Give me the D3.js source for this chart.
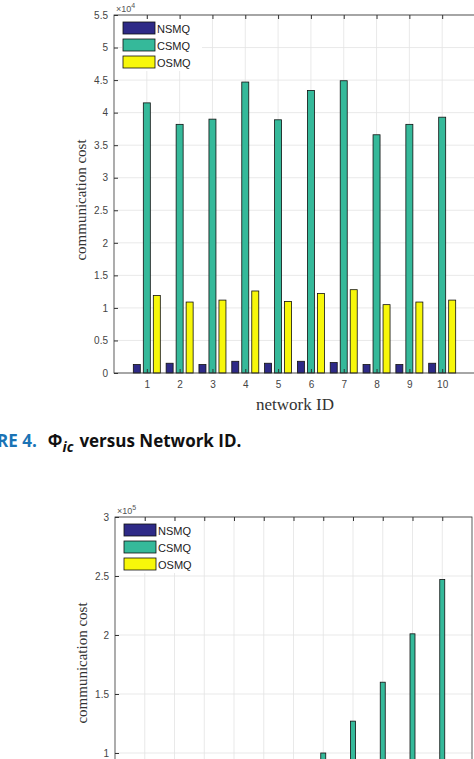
<!DOCTYPE html>
<html><head><meta charset="utf-8">
<script src="https://cdn.jsdelivr.net/npm/d3@7"></script>
<style>body{margin:0;background:#fff}svg{display:block}</style>
</head><body>
<svg width="474" height="759"></svg>
<script>
const seriesNames = ["NSMQ", "CSMQ", "OSMQ"];
const seriesColors = ["#2e2a87", "#35b99a", "#f7f70a"];

// Figure 4 (x 10^4)
const ids1 = [1, 2, 3, 4, 5, 6, 7, 8, 9, 10];
const nsmq1 = [0.13, 0.15, 0.13, 0.18, 0.15, 0.18, 0.16, 0.13, 0.13, 0.15];
const csmq1 = [4.15, 3.82, 3.90, 4.47, 3.89, 4.34, 4.49, 3.66, 3.82, 3.93];
const osmq1 = [1.19, 1.09, 1.12, 1.26, 1.10, 1.22, 1.28, 1.05, 1.09, 1.12];
const yTicks1 = [0, 0.5, 1, 1.5, 2, 2.5, 3, 3.5, 4, 4.5, 5, 5.5];

// next figure (x 10^5), only the top part is visible
const ids2 = [1, 2, 3, 4, 5, 6, 7, 8, 9, 10, 11];
const nsmq2 = [0.002, 0.003, 0.004, 0.005, 0.006, 0.008, 0.01, 0.012, 0.014, 0.016, 0.018];
const csmq2 = [0.1, 0.2, 0.3, 0.45, 0.6, 0.8, 1.0, 1.27, 1.60, 2.01, 2.47];
const osmq2 = [0.03, 0.06, 0.09, 0.13, 0.18, 0.24, 0.3, 0.38, 0.48, 0.6, 0.74];
const yTicks2 = [0, 0.5, 1, 1.5, 2, 2.5, 3];

const svg = d3.select("svg");

function drawChart(o) {
  const g = svg.append("g");
  const x = d3.scaleLinear().domain(o.xDomain).range([o.left, o.right]);
  const y = d3.scaleLinear().domain(o.yDomain).range([o.bottom, o.top]);

  // grid
  g.selectAll(".vg").data(o.ids).enter().append("line")
    .attr("x1", d => x(d)).attr("x2", d => x(d))
    .attr("y1", o.top).attr("y2", o.bottom)
    .attr("stroke", "#e3e3e3").attr("stroke-width", 0.8);
  g.selectAll(".hg").data(o.yTicks).enter().append("line")
    .attr("x1", o.left).attr("x2", o.right)
    .attr("y1", d => y(d)).attr("y2", d => y(d))
    .attr("stroke", "#e3e3e3").attr("stroke-width", 0.8);

  // bars
  const series = [o.n, o.c, o.s];
  series.forEach((vals, si) => {
    g.selectAll(".b" + si).data(vals).enter().append("rect")
      .attr("x", (d, i) => x(o.ids[i]) + (si - 1) * o.off - o.bw / 2)
      .attr("width", o.bw)
      .attr("y", d => y(d))
      .attr("height", d => y(0) - y(d))
      .attr("fill", seriesColors[si])
      .attr("stroke", "#111").attr("stroke-width", 0.8);
  });

  // axes box
  g.append("rect").attr("x", o.left).attr("y", o.top)
    .attr("width", o.right - o.left).attr("height", o.bottom - o.top)
    .attr("fill", "none").attr("stroke", "#333").attr("stroke-width", 0.8);

  const ya = g.append("g").attr("transform", `translate(${o.left},0)`)
    .call(d3.axisLeft(y).tickValues(o.yTicks).tickSize(-4).tickPadding(6).tickFormat(d3.format("")));
  ya.select(".domain").remove();
  ya.selectAll("text").attr("font-family", "Liberation Sans, sans-serif").attr("font-size", 10).attr("fill", "#444");
  ya.selectAll("line").attr("stroke", "#333");

  const xa = g.append("g").attr("transform", `translate(0,${o.bottom})`)
    .call(d3.axisBottom(x).tickValues(o.ids).tickSize(-4).tickPadding(8).tickFormat(d3.format("")));
  xa.select(".domain").remove();
  xa.selectAll("text").attr("font-family", "Liberation Sans, sans-serif").attr("font-size", 10).attr("fill", "#444");
  xa.selectAll("line").attr("stroke", "#333");

  const xt = g.append("g").attr("transform", `translate(0,${o.top})`)
    .call(d3.axisTop(x).tickValues(o.ids).tickSize(-4).tickFormat(""));
  xt.select(".domain").remove();
  xt.selectAll("line").attr("stroke", "#333");

  // exponent
  const ex = g.append("text").attr("x", o.left + 2).attr("y", o.top - 3)
    .attr("font-family", "Liberation Sans, sans-serif").attr("font-size", 9).attr("fill", "#555");
  ex.append("tspan").text("\u00d710");
  ex.append("tspan").attr("dy", -4).attr("font-size", 7).text(o.exp);

  // y label
  g.append("text").attr("transform", `translate(${o.left - 28},${(o.ylabelY)}) rotate(-90)`)
    .attr("text-anchor", "middle").attr("font-family", "Liberation Serif, serif")
    .attr("font-size", 15).attr("fill", "#333").text("communication cost");

  // legend
  const lg = g.append("g").attr("transform", `translate(${o.left + 8},${o.top + 4})`);
  lg.append("rect").attr("width", 80).attr("height", 52).attr("fill", "#fff");
  seriesNames.forEach((nm, i) => {
    lg.append("rect").attr("x", 1).attr("y", 3 + i * 17).attr("width", 32).attr("height", 12)
      .attr("fill", seriesColors[i]).attr("stroke", "#111").attr("stroke-width", 0.8);
    lg.append("text").attr("x", 35).attr("y", 14 + i * 17)
      .attr("font-family", "Liberation Sans, sans-serif").attr("font-size", 11).attr("fill", "#222").text(nm);
  });
  return g;
}

drawChart({ ids: ids1, n: nsmq1, c: csmq1, s: osmq1, yTicks: yTicks1,
  xDomain: [0, 11], yDomain: [0, 5.5], left: 114, right: 475, top: 15, bottom: 373,
  bw: 7, off: 10, exp: "4", ylabelY: 200 });

svg.append("text").attr("x", 295).attr("y", 410).attr("text-anchor", "middle")
  .attr("font-family", "Liberation Serif, serif").attr("font-size", 17).attr("fill", "#333").text("network ID");

const cap = svg.append("text").attr("x", -43).attr("y", 447)
  .attr("font-family", "Open Sans, sans-serif").attr("font-weight", "bold").attr("font-size", 17);
cap.append("tspan").attr("fill", "#1a73b5").text("FIGURE 4.");
cap.append("tspan").attr("fill", "#111").attr("dx", 11).text("\u03a6");
cap.append("tspan").attr("fill", "#111").attr("dy", 5).attr("font-size", 14).attr("font-style", "italic").text("ic");
cap.append("tspan").attr("fill", "#111").attr("dy", -5).attr("dx", 6).text("versus Network ID.");

drawChart({ ids: ids2, n: nsmq2, c: csmq2, s: osmq2, yTicks: yTicks2,
  xDomain: [0, 12], yDomain: [0, 3], left: 115, right: 472, top: 517, bottom: 871,
  bw: 5, off: 6, exp: "5", ylabelY: 663 });
</script>
</body></html>
